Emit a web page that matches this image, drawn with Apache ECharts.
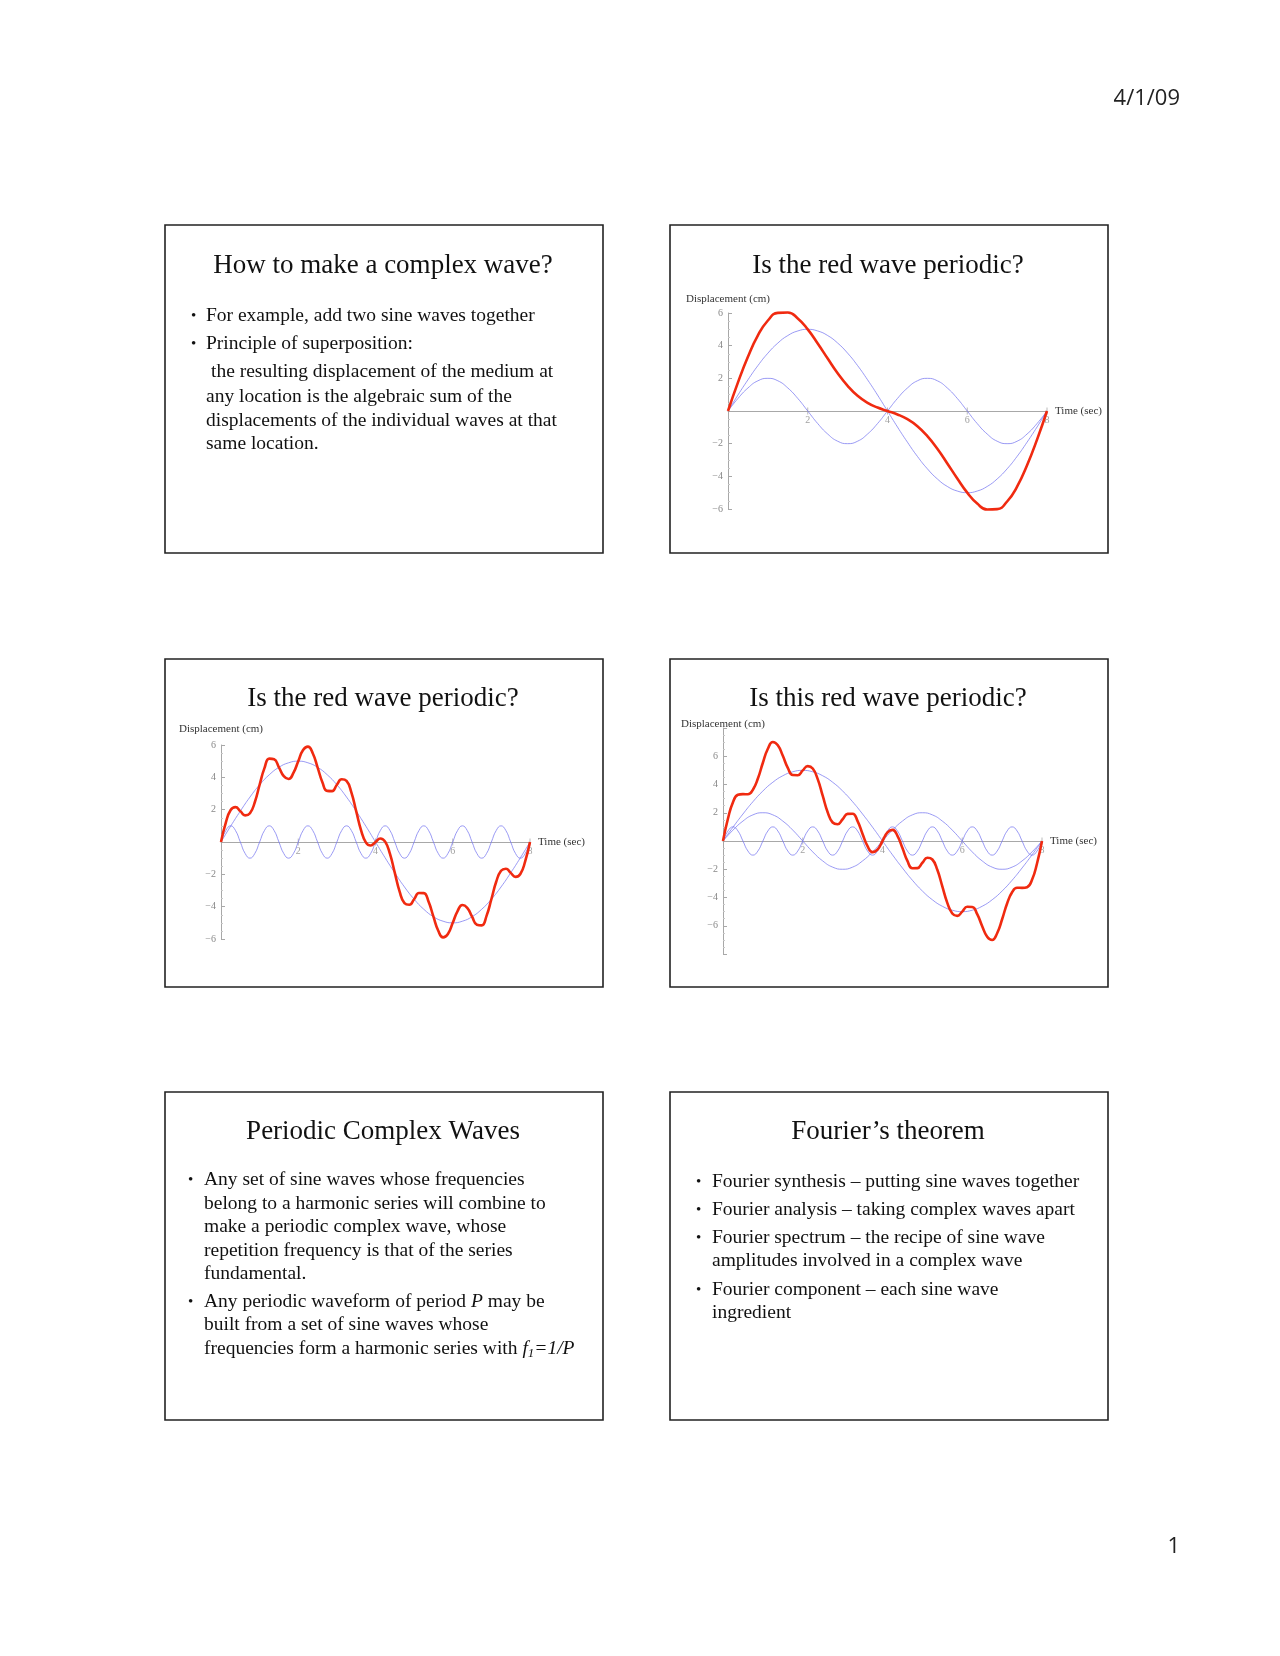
<!DOCTYPE html>
<html>
<head>
<meta charset="utf-8">
<script src="https://cdn.jsdelivr.net/npm/echarts@6/dist/echarts.min.js"></script>
<style>
html, body { margin: 0; padding: 0; background: #fff; }
#main { width: 1280px; height: 1656px; }
</style>
</head>
<body>
<div id="main"></div>
<script>
// time samples (sec)
var t25 = [0,0.25,0.5,0.75,1,1.25,1.5,1.75,2,2.25,2.5,2.75,3,3.25,3.5,3.75,4,4.25,4.5,4.75,5,5.25,5.5,5.75,6,6.25,6.5,6.75,7,7.25,7.5,7.75,8];
var t125 = [0,0.125,0.25,0.375,0.5,0.625,0.75,0.875,1,1.125,1.25,1.375,1.5,1.625,1.75,1.875,2,2.125,2.25,2.375,2.5,2.625,2.75,2.875,3,3.125,3.25,3.375,3.5,3.625,3.75,3.875,4,
  4.125,4.25,4.375,4.5,4.625,4.75,4.875,5,5.125,5.25,5.375,5.5,5.625,5.75,5.875,6,6.125,6.25,6.375,6.5,6.625,6.75,6.875,7,7.125,7.25,7.375,7.5,7.625,7.75,7.875,8];
var xTicks = [2, 4, 6, 8];

// blue waves
var bigWave = [0,0.98,1.91,2.78,3.54,4.16,4.62,4.90,5,4.90,4.62,4.16,3.54,2.78,1.91,0.98,0,-0.98,-1.91,-2.78,-3.54,-4.16,-4.62,-4.90,-5,-4.90,-4.62,-4.16,-3.54,-2.78,-1.91,-0.98,0];
var midWave = [0,0.77,1.41,1.85,2,1.85,1.41,0.77,0,-0.77,-1.41,-1.85,-2,-1.85,-1.41,-0.77,0,0.77,1.41,1.85,2,1.85,1.41,0.77,0,-0.77,-1.41,-1.85,-2,-1.85,-1.41,-0.77,0];
var smallWave = [0,0.71,1,0.71,0,-0.71,-1,-0.71,0,0.71,1,0.71,0,-0.71,-1,-0.71,0,0.71,1,0.71,0,-0.71,-1,-0.71,0,0.71,1,0.71,0,-0.71,-1,-0.71,0,
  0.71,1,0.71,0,-0.71,-1,-0.71,0,0.71,1,0.71,0,-0.71,-1,-0.71,0,0.71,1,0.71,0,-0.71,-1,-0.71,0,0.71,1,0.71,0,-0.71,-1,-0.71,0];

// red waves
var red1 = [0,1.75,3.32,4.63,5.54,6.01,6.03,5.67,5.00,4.13,3.21,2.31,1.54,0.93,0.50,0.21,0,-0.21,-0.50,-0.93,-1.54,-2.31,-3.21,-4.13,-5.00,-5.67,-6.03,-6.01,-5.54,-4.63,-3.32,-1.75,0];
var red2 = [0,1.20,1.98,2.16,1.91,1.65,1.78,2.46,3.54,4.57,5.16,5.12,4.62,4.07,3.90,4.27,5,5.69,5.90,5.49,4.62,3.70,3.16,3.15,3.54,3.88,3.78,3.07,1.91,0.74,-0.02,-0.22,0,
  0.22,0.02,-0.74,-1.91,-3.07,-3.78,-3.88,-3.54,-3.15,-3.16,-3.70,-4.62,-5.49,-5.90,-5.69,-5,-4.27,-3.90,-4.07,-4.62,-5.12,-5.16,-4.57,-3.54,-2.46,-1.78,-1.65,-1.91,-2.16,-1.98,-1.20,0];
var red3 = [0,1.59,2.75,3.27,3.32,3.31,3.63,4.42,5.54,6.53,7.01,6.78,6.03,5.18,4.67,4.66,5,5.30,5.13,4.38,3.21,2.04,1.31,1.19,1.54,1.92,1.93,1.41,0.50,-0.37,-0.79,-0.61,0,
  0.61,0.79,0.37,-0.50,-1.41,-1.93,-1.92,-1.54,-1.19,-1.31,-2.04,-3.21,-4.38,-5.13,-5.30,-5,-4.66,-4.67,-5.18,-6.03,-6.78,-7.01,-6.53,-5.54,-4.42,-3.63,-3.31,-3.32,-3.27,-2.75,-1.59,0];

var serif = '"Liberation Serif", "DejaVu Serif", serif';
var RED = '#f02a10', BLUE = 'rgba(120,120,240,0.75)', AXIS = '#a8a8a8';

function pairs(ts, vs) { return vs.map(function (v, i) { return [ts[i], v]; }); }

var myChart = echarts.init(document.getElementById('main'));

// plot areas
var grids = [
  { left: 728, top: 313, width: 319, height: 196 },
  { left: 221, top: 745, width: 309, height: 194 },
  { left: 723, top: 728, width: 319, height: 226 }
];
var yRanges = [[-6, 6], [-6, 6], [-8, 8]];
var yNameGaps = [8, 10, -2];

function tickLabel(v) {
  if (v === 0 || Math.abs(v) > 6) return '';
  return v < 0 ? '\u2212' + (-v) : String(v);
}

var xAxes = grids.map(function (g, i) {
  return {
    gridIndex: i, type: 'value', min: 0, max: 8, interval: 2,
    name: 'Time (sec)', nameLocation: 'end', nameGap: 8,
    nameTextStyle: { fontFamily: serif, fontSize: 11, color: '#333' },
    axisLine: { onZero: true, lineStyle: { color: AXIS } },
    axisTick: { show: false },
    axisLabel: { show: false },
    splitLine: { show: false }
  };
});
var yAxes = grids.map(function (g, i) {
  return {
    gridIndex: i, type: 'value', min: yRanges[i][0], max: yRanges[i][1], interval: 2,
    name: 'Displacement (cm)', nameLocation: 'end', nameGap: yNameGaps[i],
    nameTextStyle: { fontFamily: serif, fontSize: 11, color: '#333' },
    axisLine: { show: true, lineStyle: { color: AXIS } },
    axisTick: { show: true, inside: true, length: 4, lineStyle: { color: AXIS } },
    minorTick: { show: true, splitNumber: 4, length: 2, lineStyle: { color: '#c8c8c8' } },
    axisLabel: { fontFamily: serif, fontSize: 10, color: '#888', margin: 5, formatter: tickLabel },
    splitLine: { show: false }
  };
});

function line(i, ts, vs, color, w, z) {
  return {
    type: 'line', xAxisIndex: i, yAxisIndex: i, data: pairs(ts, vs),
    smooth: true, showSymbol: false, silent: true, z: z, clip: false,
    lineStyle: { color: color, width: w }
  };
}

// x tick marks and labels sitting on the zero line
function xTickSeries(i) {
  return {
    type: 'scatter', xAxisIndex: i, yAxisIndex: i, silent: true, z: 1,
    data: xTicks.map(function (t) { return [t, 0]; }),
    symbol: 'rect', symbolSize: [1, 7], itemStyle: { color: AXIS },
    label: { show: true, position: 'bottom', distance: 1, fontFamily: serif, fontSize: 10, color: '#888',
      formatter: function (p) { return p.value[0]; } }
  };
}

var series = [
  line(0, t25, bigWave, BLUE, 1, 2),
  line(0, t25, midWave, BLUE, 1, 2),
  line(0, t25, red1, RED, 2.6, 3),
  line(1, t25, bigWave, BLUE, 1, 2),
  line(1, t125, smallWave, BLUE, 1, 2),
  line(1, t125, red2, RED, 2.6, 3),
  line(2, t25, bigWave, BLUE, 1, 2),
  line(2, t25, midWave, BLUE, 1, 2),
  line(2, t125, smallWave, BLUE, 1, 2),
  line(2, t125, red3, RED, 2.6, 3),
  xTickSeries(0), xTickSeries(1), xTickSeries(2)
];

// slide frames and text
var boxes = [
  [165, 225], [670, 225],
  [165, 659], [670, 659],
  [165, 1092], [670, 1092]
];
var graphic = boxes.map(function (b) {
  return { type: 'rect', shape: { x: b[0], y: b[1], width: 438, height: 328 },
    style: { fill: 'none', stroke: '#222', lineWidth: 1.6 } };
});

function title(cx, y, s) {
  return { type: 'text', x: cx, y: y, style: { text: s, font: '27px ' + serif, fill: '#111', align: 'center', verticalAlign: 'middle' } };
}
function txt(x, y, s) {
  return { type: 'text', x: x, y: y, style: { text: s, font: '19.5px ' + serif, fill: '#111', verticalAlign: 'middle' } };
}
function bullet(x, y) {
  return { type: 'text', x: x, y: y, style: { text: '\u2022', font: '15px ' + serif, fill: '#111', verticalAlign: 'middle' } };
}

graphic.push(
  { type: 'text', x: 1180, y: 99, style: { text: '4/1/09', font: '22px "Open Sans", sans-serif', fill: '#222', align: 'right', verticalAlign: 'middle' } },
  { type: 'text', x: 1180, y: 1547, style: { text: '1', font: '22px "Open Sans", sans-serif', fill: '#222', align: 'right', verticalAlign: 'middle' } },

  title(383, 266, 'How to make a complex wave?'),
  bullet(191, 316), txt(206, 316, 'For example, add two sine waves together'),
  bullet(191, 344), txt(206, 344, 'Principle of superposition:'),
  txt(211, 372, 'the resulting displacement of the medium at'),
  txt(206, 397, 'any location is the algebraic sum of the'),
  txt(206, 421, 'displacements of the individual waves at that'),
  txt(206, 444, 'same location.'),

  title(888, 266, 'Is the red wave periodic?'),
  title(383, 699, 'Is the red wave periodic?'),
  title(888, 699, 'Is this red wave periodic?'),

  title(383, 1132, 'Periodic Complex Waves'),
  bullet(188, 1180), txt(204, 1180, 'Any set of sine waves whose frequencies'),
  txt(204, 1204, 'belong to a harmonic series will combine to'),
  txt(204, 1227, 'make a periodic complex wave, whose'),
  txt(204, 1251, 'repetition frequency is that of the series'),
  txt(204, 1274, 'fundamental.'),
  bullet(188, 1302),
  { type: 'text', x: 204, y: 1302, style: { text: 'Any periodic waveform of period {r|P} may be', font: '19.5px ' + serif, fill: '#111', verticalAlign: 'middle',
      rich: { r: { fontFamily: serif, fontSize: 19.5, fontStyle: 'italic', color: RED } } } },
  txt(204, 1325, 'built from a set of sine waves whose'),
  { type: 'text', x: 204, y: 1349, style: { text: 'frequencies form a harmonic series with {r|f}{s|1}{r|=1/P}', font: '19.5px ' + serif, fill: '#111', verticalAlign: 'middle',
      rich: { r: { fontFamily: serif, fontSize: 19.5, fontStyle: 'italic', color: RED },
              s: { fontFamily: serif, fontSize: 13, fontStyle: 'italic', color: RED, padding: [9, 0, 0, 0] } } } },

  title(888, 1132, 'Fourier\u2019s theorem'),
  bullet(696, 1182), txt(712, 1182, 'Fourier synthesis \u2013 putting sine waves together'),
  bullet(696, 1210), txt(712, 1210, 'Fourier analysis \u2013 taking complex waves apart'),
  bullet(696, 1238), txt(712, 1238, 'Fourier spectrum \u2013 the recipe of sine wave'),
  txt(712, 1261, 'amplitudes involved in a complex wave'),
  bullet(696, 1290), txt(712, 1290, 'Fourier component \u2013 each sine wave'),
  txt(712, 1313, 'ingredient')
);

option = {
  backgroundColor: '#fff',
  animation: false,
  grid: grids,
  xAxis: xAxes,
  yAxis: yAxes,
  series: series,
  graphic: graphic
};
myChart.setOption(option);
</script>
</body>
</html>
